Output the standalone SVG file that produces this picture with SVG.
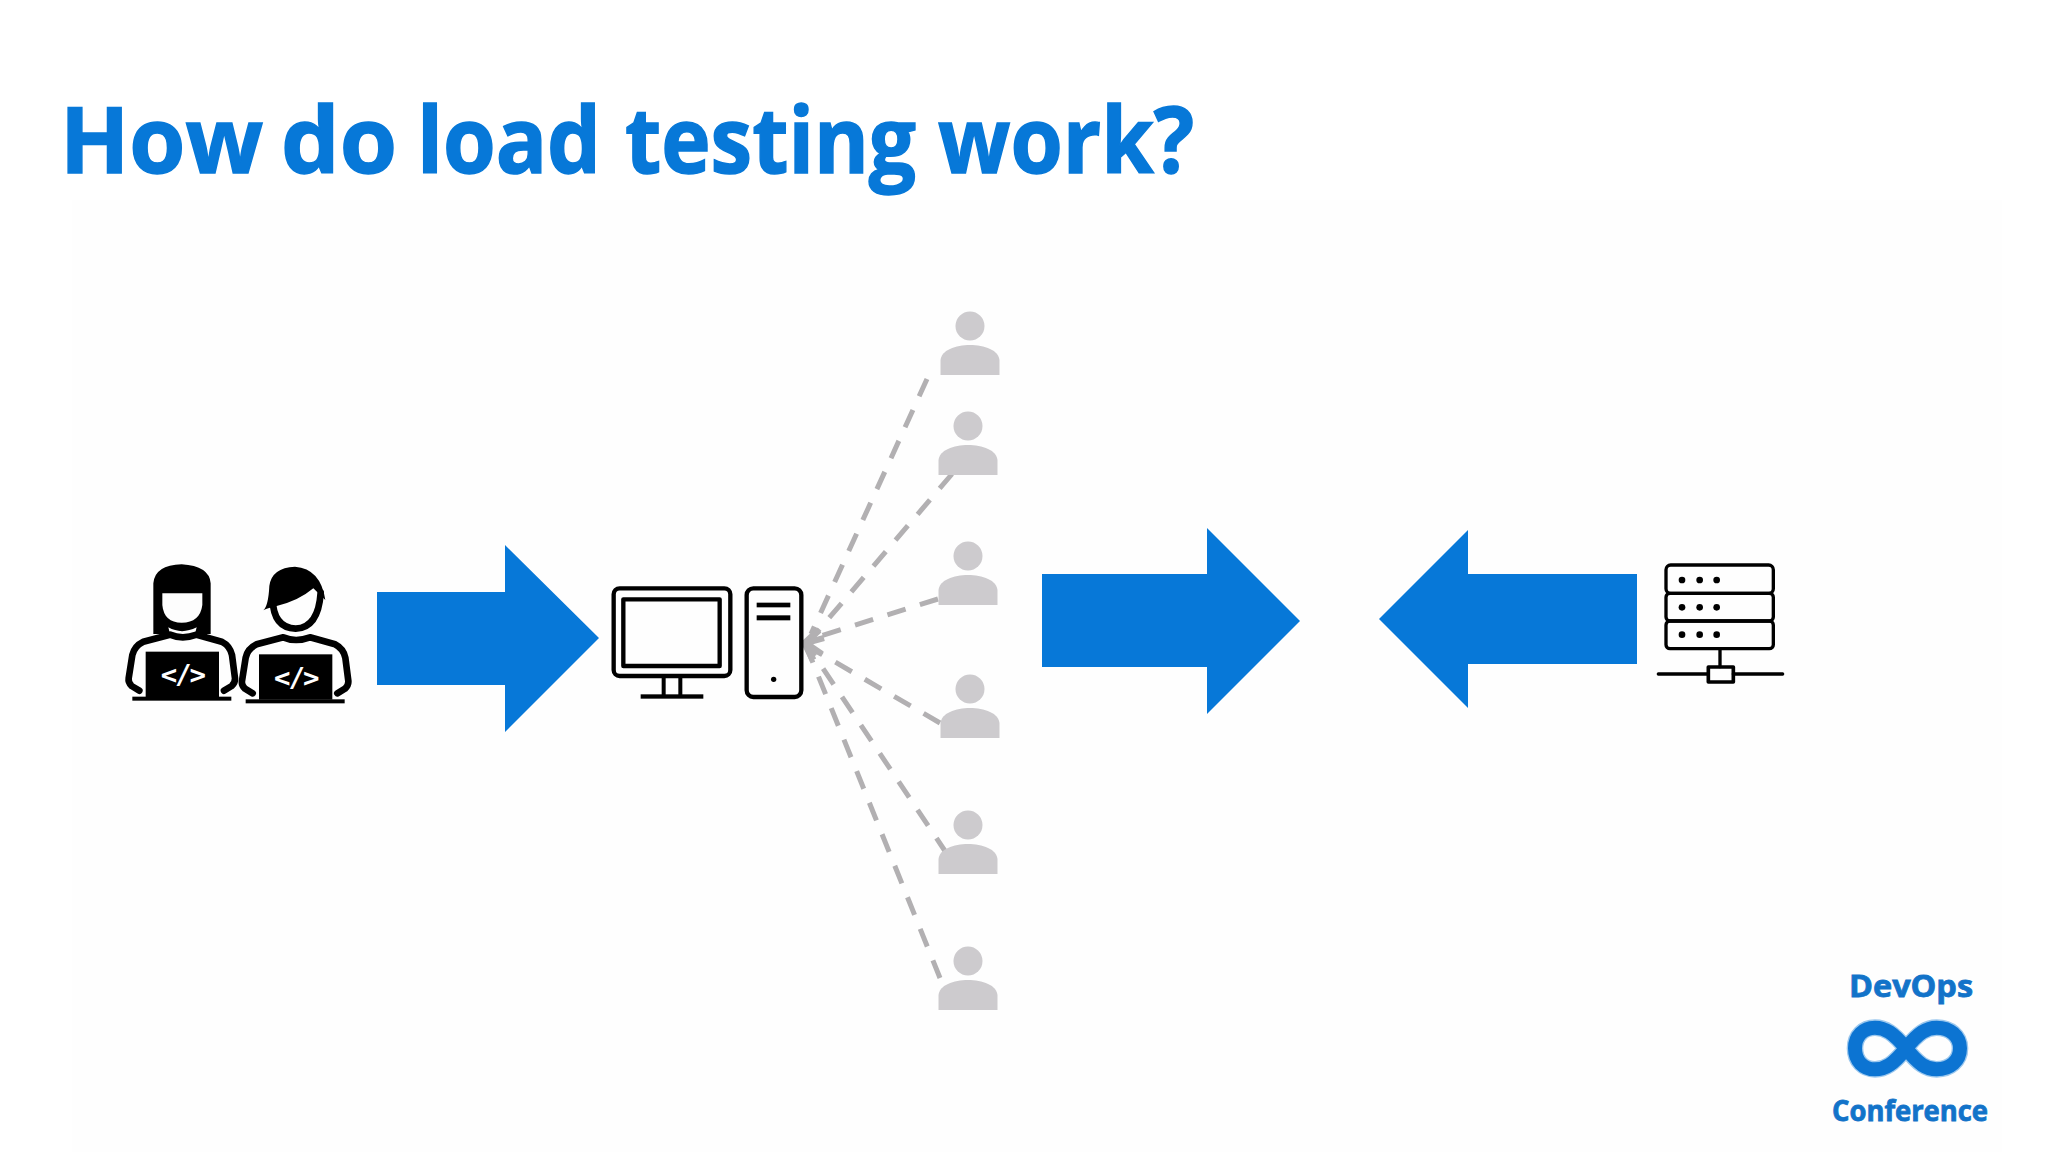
<svg xmlns="http://www.w3.org/2000/svg" width="2048" height="1152" viewBox="0 0 2048 1152">
<defs>
<style>
.arrow{fill:#0778d8}
.p{fill:#cdcbce}
.d{fill:none;stroke:#b2b0b2;stroke-width:5;stroke-dasharray:19 15}
.k{fill:none;stroke:#000;stroke-linejoin:round;stroke-linecap:round}
.code{font-family:"DejaVu Sans Mono","Liberation Mono",monospace;font-weight:700;font-size:82px;fill:#fff;text-anchor:middle;letter-spacing:-6px}
.logo{font-family:"Open Sans","Liberation Sans",sans-serif;font-weight:700;fill:#1273c9;stroke:#1273c9;stroke-width:.8;text-anchor:middle}
</style>
<g id="person"><circle cx="0" cy="-20" r="14.5"/><path d="M-29.500 29V15C-29.500 4 -14 -1 0 -1C14 -1 29.500 4 29.500 15V29Z"/></g>
<g id="dev">
<path class="k" stroke-width="20" d="M118 452L95 438Q84 428 86 415L97 345Q103 318 130 305L210 284Q247 300 290 284L365 305Q390 318 396 345L405 415Q406 428 395 438L372 452"/>
<rect x="137" y="335" width="220" height="136" fill="#000"/>
<rect x="97" y="470" width="297" height="12" fill="#000"/>
<text class="code" x="247" y="432">&lt;/&gt;</text>
</g>
<filter id="glow" x="-20%" y="-20%" width="140%" height="140%"><feGaussianBlur stdDeviation="2"/></filter>
</defs>
<rect width="2048" height="1152" fill="#fff"/>
<rect x="72" y="200" width="1930" height="952" fill="#fefefe"/>
<text id="title" y="173" font-family="Open Sans, Liberation Sans, sans-serif" font-weight="700" font-size="92" fill="#0778d8" stroke="#0778d8" stroke-width="1.500"><tspan x="60" textLength="203" lengthAdjust="spacingAndGlyphs">How</tspan> <tspan x="281" textLength="116" lengthAdjust="spacingAndGlyphs">do</tspan> <tspan x="417" textLength="184" lengthAdjust="spacingAndGlyphs">load</tspan> <tspan x="625" textLength="291" lengthAdjust="spacingAndGlyphs">testing</tspan> <tspan x="938" textLength="256" lengthAdjust="spacingAndGlyphs">work?</tspan></text>

<g id="connectors">
<path class="d" d="M927 379L811 634"/>
<path class="d" d="M952 474L812 638"/>
<path class="d" d="M938 599L808 640"/>
<path class="d" d="M940 723L811 648"/>
<path class="d" d="M947 854L812 652"/>
<path class="d" d="M940 978L807 648"/>
<path d="M819 630L805 643L813 660" fill="none" stroke="#b2b0b2" stroke-width="7"/>
<path d="M806 643L824 638M806 643L822 654" fill="none" stroke="#b2b0b2" stroke-width="6"/>
</g>

<g id="arrow-1"><path class="arrow" d="M377 592H505V545L599 638L505 732V685H377Z"/></g>
<g id="arrow-2"><path class="arrow" d="M1042 574H1207V528L1300 621L1207 714V667H1042Z"/></g>
<g id="arrow-3"><path class="arrow" d="M1637 574H1468V530L1379 619L1468 708V664H1637Z"/></g>

<g id="developers" transform="translate(100,540) scale(.33333)">
<g id="dev-woman">
<path d="M160 282V130Q165 75 245 73Q328 78 332 130V282H285L290 262Q245 285 205 262L210 282Z" fill="#000"/>
<path d="M187 160H307V195Q300 248 245 248Q192 248 187 195Z" fill="#fdfdfd"/>
<use href="#dev"/>
</g>
<g id="dev-man" transform="translate(340,8)">
<use href="#dev"/>
<path class="k" stroke-width="20" d="M178 170Q180 255 247 258Q315 255 322 150" fill="#fdfdfd"/>
<path d="M150 203Q165 190 168 130Q175 75 245 72Q322 78 336 172L300 137Q255 175 190 190Q165 195 150 203Z" fill="#000"/>
</g>
</g>

<g id="computer" transform="translate(590,560) scale(.33333)">
<rect class="k" stroke-width="13" x="71" y="85" width="350" height="263" rx="18"/>
<rect class="k" stroke-width="13" x="100" y="118" width="289" height="200" stroke-linejoin="miter"/>
<path class="k" stroke-width="12" d="M221 348V405M271 348V405" stroke-linecap="butt"/>
<rect x="152" y="403" width="188" height="13"/>
<rect class="k" stroke-width="13" x="470" y="85" width="164" height="326" rx="20"/>
<rect x="500" y="128" width="101" height="14"/>
<rect x="500" y="166" width="101" height="15"/>
<circle cx="551" cy="358" r="8"/>
</g>

<g id="server" transform="translate(1640,550) scale(.33333)">
<rect class="k" stroke-width="10" x="78" y="45" width="322" height="85" rx="14"/>
<rect class="k" stroke-width="10" x="78" y="130" width="322" height="83" rx="12"/>
<rect class="k" stroke-width="10" x="78" y="213" width="322" height="83" rx="12"/>
<g>
<circle cx="126" cy="90" r="10"/><circle cx="179" cy="90" r="10"/><circle cx="230" cy="90" r="10"/>
<circle cx="126" cy="172" r="10"/><circle cx="179" cy="172" r="10"/><circle cx="230" cy="172" r="10"/>
<circle cx="126" cy="254" r="10"/><circle cx="179" cy="254" r="10"/><circle cx="230" cy="254" r="10"/>
</g>
<path class="k" stroke-width="10" stroke-linecap="butt" d="M240 296V350M55 372H205M280 372H428"/>
<rect class="k" stroke-width="11" stroke-linejoin="miter" x="205" y="351" width="75" height="45"/>
</g>

<g id="user-1" class="p"><use href="#person" x="970" y="346"/></g>
<g id="user-2" class="p"><use href="#person" x="968" y="446"/></g>
<g id="user-3" class="p"><use href="#person" x="968" y="576"/></g>
<g id="user-4" class="p"><use href="#person" x="970" y="709"/></g>
<g id="user-5" class="p"><use href="#person" x="968" y="845"/></g>
<g id="user-6" class="p"><use href="#person" x="968" y="981"/></g>

<g id="logo">
<text class="logo" x="1911" y="997" font-size="31" textLength="124" lengthAdjust="spacingAndGlyphs">DevOps</text>
<path transform="translate(1810,961) scale(.33333)" d="M288 262C250 215 225 200 195 200C160 200 135 225 135 262C135 300 160 325 195 325C225 325 250 310 288 262C325 215 350 200 380 200C420 200 450 225 450 262C450 300 420 325 380 325C350 325 325 310 288 262Z" fill="none" stroke="#9cc8ee" stroke-width="50" filter="url(#glow)"/>
<path transform="translate(1810,961) scale(.33333)" d="M288 262C250 215 225 200 195 200C160 200 135 225 135 262C135 300 160 325 195 325C225 325 250 310 288 262C325 215 350 200 380 200C420 200 450 225 450 262C450 300 420 325 380 325C350 325 325 310 288 262Z" fill="none" stroke="#0c74d2" stroke-width="42"/>
<text class="logo" x="1910" y="1121" font-size="29" textLength="156" lengthAdjust="spacingAndGlyphs">Conference</text>
</g>
</svg>
